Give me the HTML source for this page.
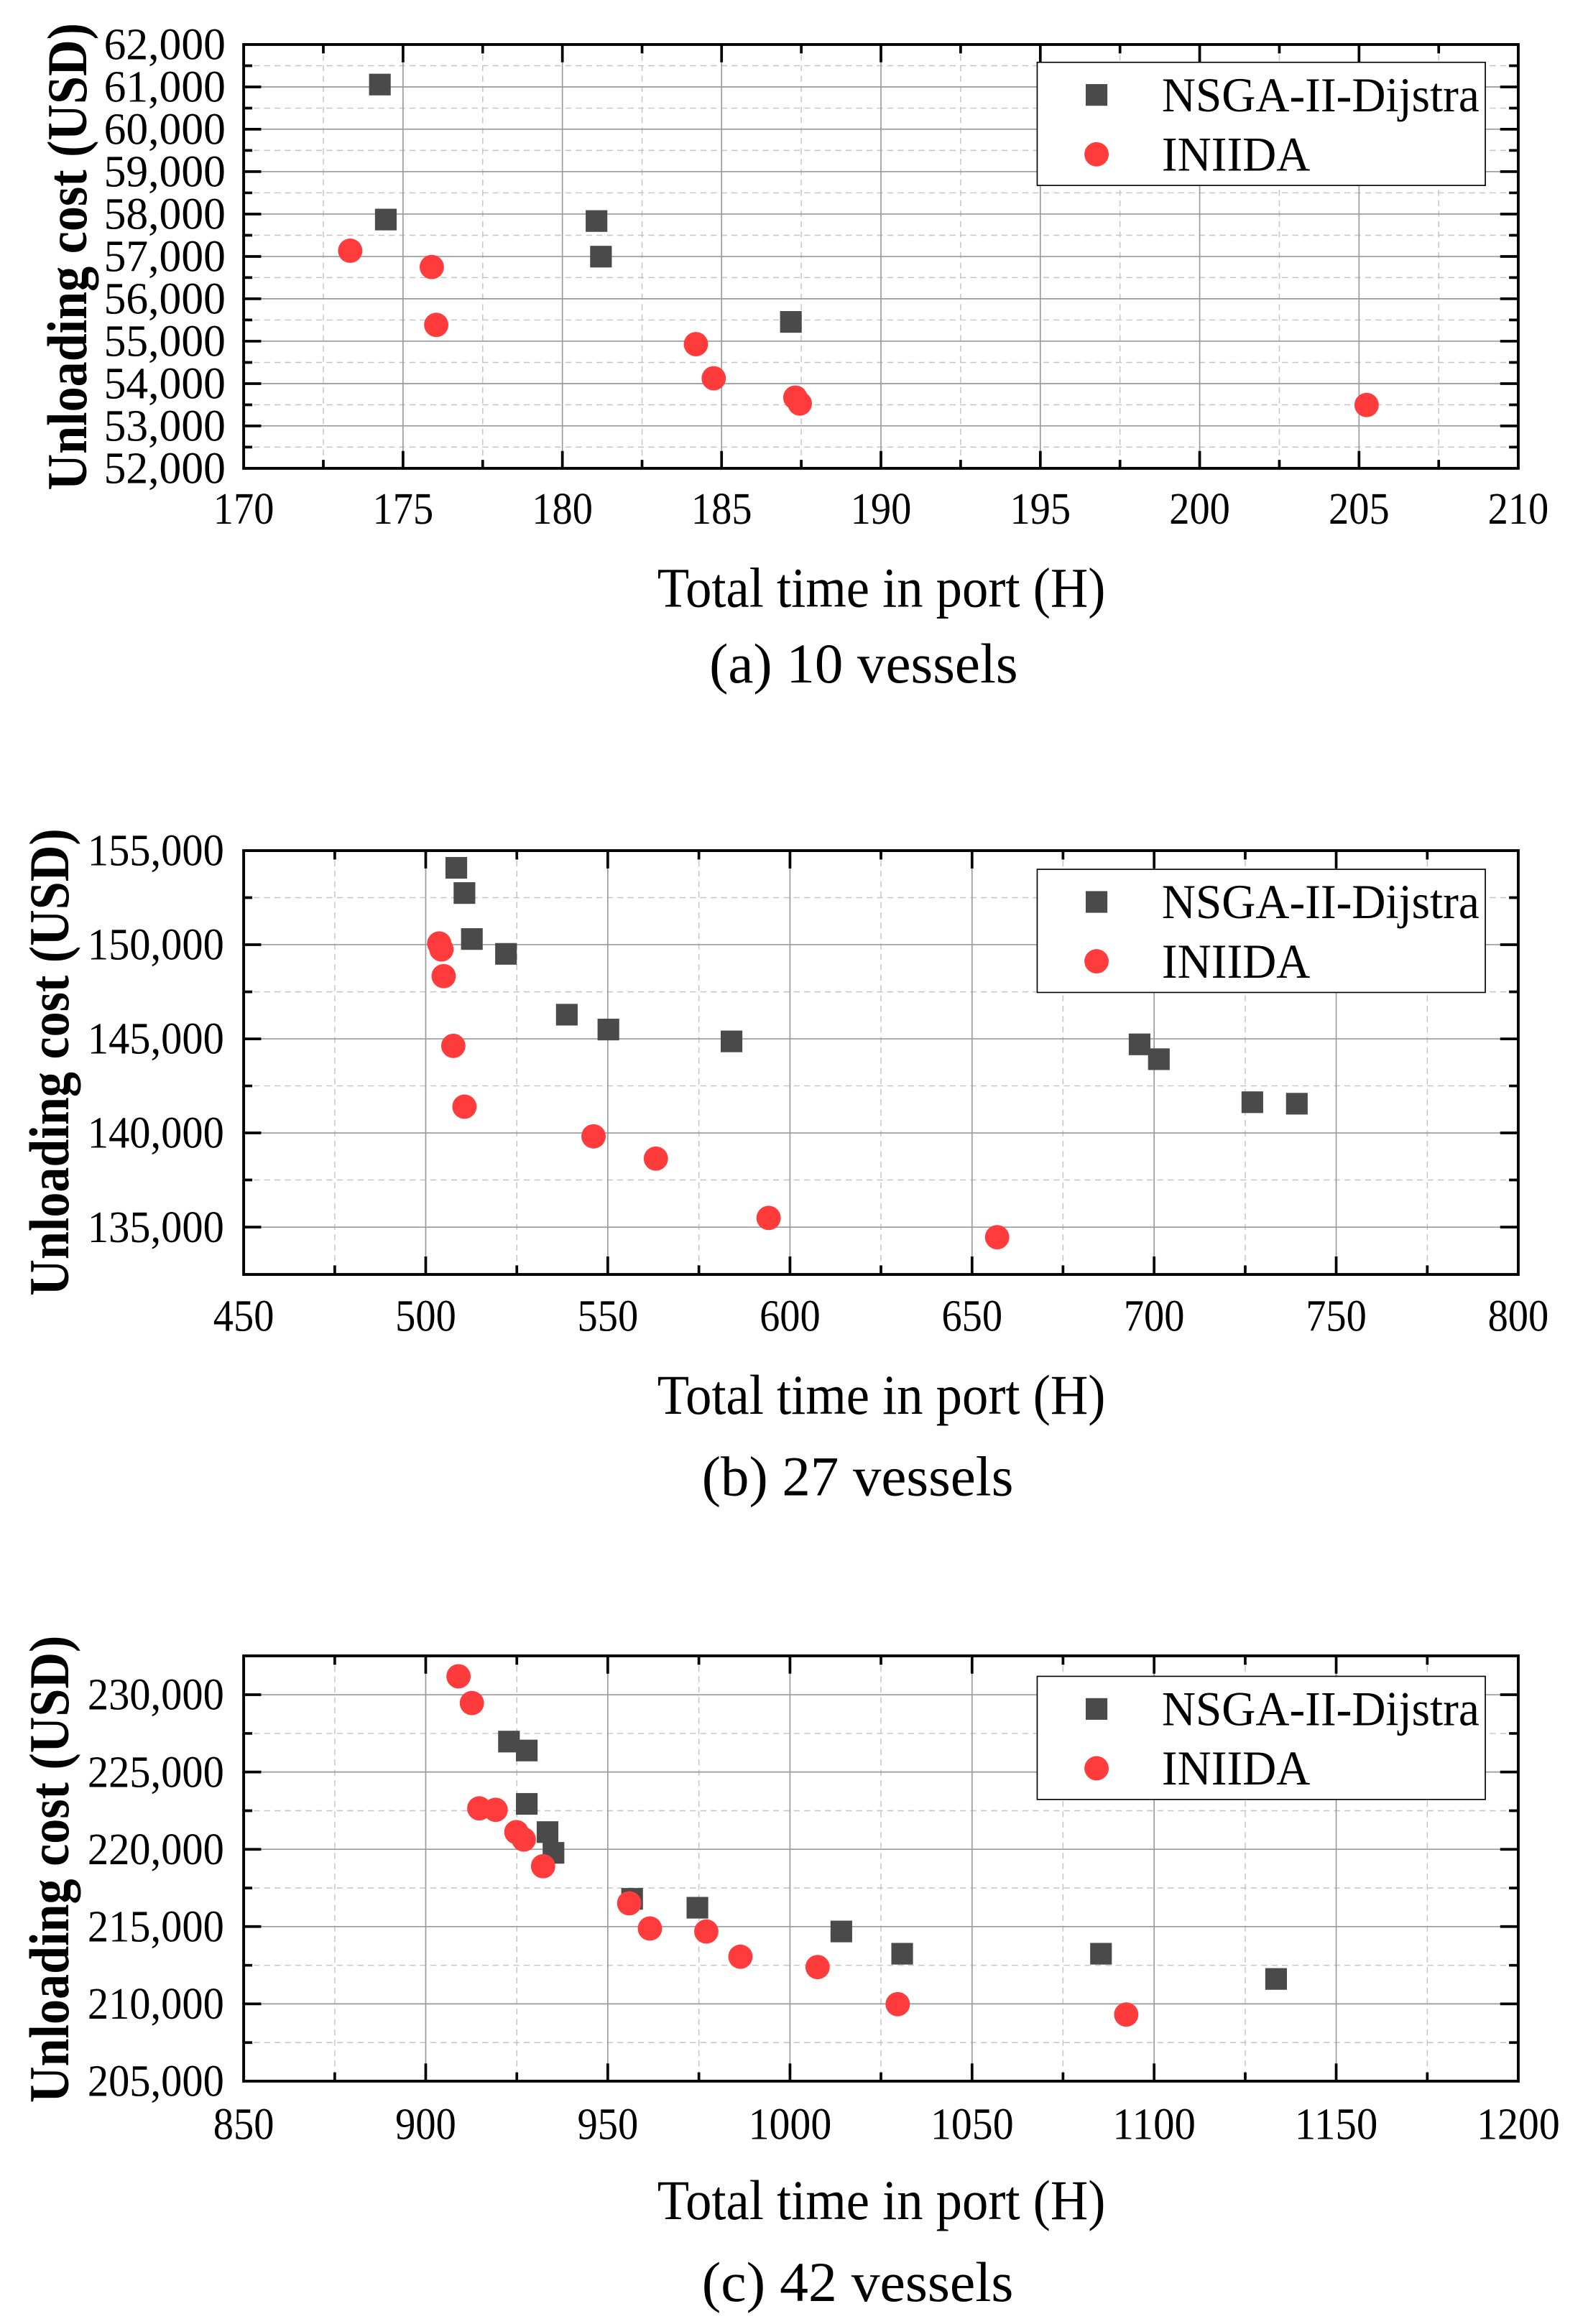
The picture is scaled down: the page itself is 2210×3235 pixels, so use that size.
<!DOCTYPE html>
<html><head><meta charset="utf-8"><style>html,body{margin:0;padding:0;background:#fff}svg{display:block}</style></head>
<body>
<svg width="2210" height="3235" viewBox="0 0 1070.2 1566.6" xmlns="http://www.w3.org/2000/svg" font-family="'Liberation Serif', serif">
<rect width="1070.2" height="1566.6" fill="#fff"/>
<defs>
<rect id="sq" x="-7.3" y="-7.3" width="14.6" height="14.6" fill="#4a4a4a"/>
<circle id="ci" r="8.2" fill="#ff3b3b"/>
</defs>

<!-- ===== Panel A ===== -->
<g>
<path d="M217.9 30V316M325.3 30V316M432.7 30V316M540 30V316M647.4 30V316M754.8 30V316M862.2 30V316M969.6 30V316M164 44.3H1023M164 72.9H1023M164 101.4H1023M164 130H1023M164 158.6H1023M164 187.1H1023M164 215.7H1023M164 244.3H1023M164 272.9H1023M164 301.4H1023" stroke="#c4c4c4" stroke-width="0.7" stroke-dasharray="4,3" fill="none"/>
<path d="M271.6 30V316M379 30V316M486.3 30V316M593.7 30V316M701.1 30V316M808.5 30V316M915.9 30V316M164 58.6H1023M164 87.1H1023M164 115.7H1023M164 144.3H1023M164 172.9H1023M164 201.4H1023M164 230H1023M164 258.6H1023M164 287.1H1023" stroke="#9a9a9a" stroke-width="0.8" fill="none"/>
<path d="M271.6 316v-12M379 316v-12M486.3 316v-12M593.7 316v-12M701.1 316v-12M808.5 316v-12M915.9 316v-12M271.6 30v12M379 30v12M486.3 30v12M593.7 30v12M701.1 30v12M808.5 30v12M915.9 30v12M217.9 316v-6M325.3 316v-6M432.7 316v-6M540 316v-6M647.4 316v-6M754.8 316v-6M862.2 316v-6M969.6 316v-6M217.9 30v6M325.3 30v6M432.7 30v6M540 30v6M647.4 30v6M754.8 30v6M862.2 30v6M969.6 30v6M164 58.6h12M164 87.1h12M164 115.7h12M164 144.3h12M164 172.9h12M164 201.4h12M164 230h12M164 258.6h12M164 287.1h12M1023 58.6h-12M1023 87.1h-12M1023 115.7h-12M1023 144.3h-12M1023 172.9h-12M1023 201.4h-12M1023 230h-12M1023 258.6h-12M1023 287.1h-12M164 44.3h6M164 72.9h6M164 101.4h6M164 130h6M164 158.6h6M164 187.1h6M164 215.7h6M164 244.3h6M164 272.9h6M164 301.4h6M1023 44.3h-6M1023 72.9h-6M1023 101.4h-6M1023 130h-6M1023 158.6h-6M1023 187.1h-6M1023 215.7h-6M1023 244.3h-6M1023 272.9h-6M1023 301.4h-6" stroke="#000" stroke-width="1.8" fill="none"/>
<rect x="164.2" y="30" width="859" height="285.7" fill="none" stroke="#000" stroke-width="1.9"/>
<g font-size="30" text-anchor="end" lengthAdjust="spacingAndGlyphs">
<text x="152" y="40" textLength="82" lengthAdjust="spacingAndGlyphs">62,000</text><text x="152" y="68.6" textLength="82" lengthAdjust="spacingAndGlyphs">61,000</text><text x="152" y="97.1" textLength="82" lengthAdjust="spacingAndGlyphs">60,000</text><text x="152" y="125.7" textLength="82" lengthAdjust="spacingAndGlyphs">59,000</text><text x="152" y="154.3" textLength="82" lengthAdjust="spacingAndGlyphs">58,000</text><text x="152" y="182.9" textLength="82" lengthAdjust="spacingAndGlyphs">57,000</text><text x="152" y="211.4" textLength="82" lengthAdjust="spacingAndGlyphs">56,000</text><text x="152" y="240" textLength="82" lengthAdjust="spacingAndGlyphs">55,000</text><text x="152" y="268.6" textLength="82" lengthAdjust="spacingAndGlyphs">54,000</text><text x="152" y="297.1" textLength="82" lengthAdjust="spacingAndGlyphs">53,000</text><text x="152" y="325.7" textLength="82" lengthAdjust="spacingAndGlyphs">52,000</text>
</g>
<g font-size="30" text-anchor="middle">
<text x="164.2" y="353" textLength="41" lengthAdjust="spacingAndGlyphs">170</text><text x="271.6" y="353" textLength="41" lengthAdjust="spacingAndGlyphs">175</text><text x="379" y="353" textLength="41" lengthAdjust="spacingAndGlyphs">180</text><text x="486.3" y="353" textLength="41" lengthAdjust="spacingAndGlyphs">185</text><text x="593.7" y="353" textLength="41" lengthAdjust="spacingAndGlyphs">190</text><text x="701.1" y="353" textLength="41" lengthAdjust="spacingAndGlyphs">195</text><text x="808.5" y="353" textLength="41" lengthAdjust="spacingAndGlyphs">200</text><text x="915.9" y="353" textLength="41" lengthAdjust="spacingAndGlyphs">205</text><text x="1023.2" y="353" textLength="41" lengthAdjust="spacingAndGlyphs">210</text>
</g>
<text x="594" y="409" font-size="38" text-anchor="middle" textLength="302" lengthAdjust="spacingAndGlyphs">Total time in port (H)</text>
<text x="582" y="460" font-size="38" text-anchor="middle" textLength="208" lengthAdjust="spacingAndGlyphs">(a) 10 vessels</text>
<text transform="translate(58,173) rotate(-90)" font-size="38" font-weight="bold" text-anchor="middle" textLength="315" lengthAdjust="spacingAndGlyphs">Unloading cost (USD)</text>
<use href="#sq" x="256" y="57"/><use href="#sq" x="260" y="148"/><use href="#sq" x="402" y="149"/><use href="#sq" x="405" y="173"/><use href="#sq" x="533" y="217"/>
<use href="#ci" x="236" y="169"/><use href="#ci" x="291" y="180"/><use href="#ci" x="294" y="219"/><use href="#ci" x="469" y="232"/><use href="#ci" x="481" y="255"/><use href="#ci" x="536" y="268"/><use href="#ci" x="539" y="272"/><use href="#ci" x="921" y="273"/>
<rect x="699" y="42" width="302" height="83" fill="#fff" stroke="#000" stroke-width="0.8"/>
<use href="#sq" x="739" y="64"/><use href="#ci" x="739" y="104"/>
<text x="783" y="75" font-size="33" textLength="214" lengthAdjust="spacingAndGlyphs">NSGA-II-Dijstra</text><text x="783" y="115" font-size="33" textLength="100" lengthAdjust="spacingAndGlyphs">INIIDA</text>
</g>

<!-- ===== Panel B ===== -->
<g>
<path d="M225.6 573V859M348.3 573V859M471 573V859M593.7 573V859M716.4 573V859M839.2 573V859M961.9 573V859M164 605.1H1023M164 668.6H1023M164 732H1023M164 795.4H1023" stroke="#c4c4c4" stroke-width="0.7" stroke-dasharray="4,3" fill="none"/>
<path d="M286.9 573V859M409.6 573V859M532.4 573V859M655.1 573V859M777.8 573V859M900.5 573V859M164 636.8H1023M164 700.3H1023M164 763.7H1023M164 827.2H1023" stroke="#9a9a9a" stroke-width="0.8" fill="none"/>
<path d="M286.9 859v-12M409.6 859v-12M532.4 859v-12M655.1 859v-12M777.8 859v-12M900.5 859v-12M286.9 573.4v12M409.6 573.4v12M532.4 573.4v12M655.1 573.4v12M777.8 573.4v12M900.5 573.4v12M225.6 859v-6M348.3 859v-6M471 859v-6M593.7 859v-6M716.4 859v-6M839.2 859v-6M961.9 859v-6M225.6 573.4v6M348.3 573.4v6M471 573.4v6M593.7 573.4v6M716.4 573.4v6M839.2 573.4v6M961.9 573.4v6M164 636.8h12M164 700.3h12M164 763.7h12M164 827.2h12M1023 636.8h-12M1023 700.3h-12M1023 763.7h-12M1023 827.2h-12M164 605.1h6M164 668.6h6M164 732h6M164 795.4h6M1023 605.1h-6M1023 668.6h-6M1023 732h-6M1023 795.4h-6" stroke="#000" stroke-width="1.8" fill="none"/>
<rect x="164.2" y="573.4" width="859" height="285.7" fill="none" stroke="#000" stroke-width="1.9"/>
<g font-size="30" text-anchor="end">
<text x="151" y="583.4" textLength="92" lengthAdjust="spacingAndGlyphs">155,000</text><text x="151" y="646.8" textLength="92" lengthAdjust="spacingAndGlyphs">150,000</text><text x="151" y="710.3" textLength="92" lengthAdjust="spacingAndGlyphs">145,000</text><text x="151" y="773.7" textLength="92" lengthAdjust="spacingAndGlyphs">140,000</text><text x="151" y="837.2" textLength="92" lengthAdjust="spacingAndGlyphs">135,000</text>
</g>
<g font-size="30" text-anchor="middle">
<text x="164.2" y="897" textLength="41" lengthAdjust="spacingAndGlyphs">450</text><text x="286.9" y="897" textLength="41" lengthAdjust="spacingAndGlyphs">500</text><text x="409.6" y="897" textLength="41" lengthAdjust="spacingAndGlyphs">550</text><text x="532.4" y="897" textLength="41" lengthAdjust="spacingAndGlyphs">600</text><text x="655.1" y="897" textLength="41" lengthAdjust="spacingAndGlyphs">650</text><text x="777.8" y="897" textLength="41" lengthAdjust="spacingAndGlyphs">700</text><text x="900.5" y="897" textLength="41" lengthAdjust="spacingAndGlyphs">750</text><text x="1023.2" y="897" textLength="41" lengthAdjust="spacingAndGlyphs">800</text>
</g>
<text x="594" y="953" font-size="38" text-anchor="middle" textLength="302" lengthAdjust="spacingAndGlyphs">Total time in port (H)</text>
<text x="578" y="1008" font-size="38" text-anchor="middle" textLength="210" lengthAdjust="spacingAndGlyphs">(b) 27 vessels</text>
<text transform="translate(46,716) rotate(-90)" font-size="38" font-weight="bold" text-anchor="middle" textLength="315" lengthAdjust="spacingAndGlyphs">Unloading cost (USD)</text>
<use href="#sq" x="307.5" y="585"/><use href="#sq" x="313" y="602"/><use href="#sq" x="318" y="633"/><use href="#sq" x="341" y="643"/><use href="#sq" x="382" y="684"/><use href="#sq" x="410" y="694"/><use href="#sq" x="493" y="702"/><use href="#sq" x="768" y="704"/><use href="#sq" x="781" y="714"/><use href="#sq" x="844" y="743"/><use href="#sq" x="874" y="744"/>
<use href="#ci" x="296" y="636"/><use href="#ci" x="297.5" y="640"/><use href="#ci" x="299" y="658"/><use href="#ci" x="305.5" y="705"/><use href="#ci" x="313" y="746"/><use href="#ci" x="400" y="766"/><use href="#ci" x="442" y="781"/><use href="#ci" x="518" y="821"/><use href="#ci" x="672" y="834"/>
<rect x="699" y="586" width="302" height="83" fill="#fff" stroke="#000" stroke-width="0.8"/>
<use href="#sq" x="739" y="608"/><use href="#ci" x="739" y="648"/>
<text x="783" y="619" font-size="33" textLength="214" lengthAdjust="spacingAndGlyphs">NSGA-II-Dijstra</text><text x="783" y="659" font-size="33" textLength="100" lengthAdjust="spacingAndGlyphs">INIIDA</text>
</g>

<!-- ===== Panel C ===== -->
<g>
<path d="M225.6 1116V1403M348.3 1116V1403M471 1116V1403M593.7 1116V1403M716.4 1116V1403M839.2 1116V1403M961.9 1116V1403M164 1168.5H1023M164 1220.6H1023M164 1272.7H1023M164 1324.8H1023M164 1376.9H1023" stroke="#c4c4c4" stroke-width="0.7" stroke-dasharray="4,3" fill="none"/>
<path d="M286.9 1116V1403M409.6 1116V1403M532.4 1116V1403M655.1 1116V1403M777.8 1116V1403M900.5 1116V1403M164 1142.4H1023M164 1194.5H1023M164 1246.6H1023M164 1298.7H1023M164 1350.8H1023" stroke="#9a9a9a" stroke-width="0.8" fill="none"/>
<path d="M286.9 1403v-12M409.6 1403v-12M532.4 1403v-12M655.1 1403v-12M777.8 1403v-12M900.5 1403v-12M286.9 1116.2v12M409.6 1116.2v12M532.4 1116.2v12M655.1 1116.2v12M777.8 1116.2v12M900.5 1116.2v12M225.6 1403v-6M348.3 1403v-6M471 1403v-6M593.7 1403v-6M716.4 1403v-6M839.2 1403v-6M961.9 1403v-6M225.6 1116.2v6M348.3 1116.2v6M471 1116.2v6M593.7 1116.2v6M716.4 1116.2v6M839.2 1116.2v6M961.9 1116.2v6M164 1142.4h12M164 1194.5h12M164 1246.6h12M164 1298.7h12M164 1350.8h12M1023 1142.4h-12M1023 1194.5h-12M1023 1246.6h-12M1023 1298.7h-12M1023 1350.8h-12M164 1168.5h6M164 1220.6h6M164 1272.7h6M164 1324.8h6M164 1376.9h6M1023 1168.5h-6M1023 1220.6h-6M1023 1272.7h-6M1023 1324.8h-6M1023 1376.9h-6" stroke="#000" stroke-width="1.8" fill="none"/>
<rect x="164.2" y="1116.2" width="859" height="286.7" fill="none" stroke="#000" stroke-width="1.9"/>
<g font-size="30" text-anchor="end">
<text x="151" y="1152.4" textLength="92" lengthAdjust="spacingAndGlyphs">230,000</text><text x="151" y="1204.5" textLength="92" lengthAdjust="spacingAndGlyphs">225,000</text><text x="151" y="1256.6" textLength="92" lengthAdjust="spacingAndGlyphs">220,000</text><text x="151" y="1308.7" textLength="92" lengthAdjust="spacingAndGlyphs">215,000</text><text x="151" y="1360.8" textLength="92" lengthAdjust="spacingAndGlyphs">210,000</text><text x="151" y="1412.9" textLength="92" lengthAdjust="spacingAndGlyphs">205,000</text>
</g>
<g font-size="30" text-anchor="middle">
<text x="164.2" y="1442" textLength="41" lengthAdjust="spacingAndGlyphs">850</text><text x="286.9" y="1442" textLength="41" lengthAdjust="spacingAndGlyphs">900</text><text x="409.6" y="1442" textLength="41" lengthAdjust="spacingAndGlyphs">950</text><text x="532.4" y="1442" textLength="56" lengthAdjust="spacingAndGlyphs">1000</text><text x="655.1" y="1442" textLength="56" lengthAdjust="spacingAndGlyphs">1050</text><text x="777.8" y="1442" textLength="56" lengthAdjust="spacingAndGlyphs">1100</text><text x="900.5" y="1442" textLength="56" lengthAdjust="spacingAndGlyphs">1150</text><text x="1023.2" y="1442" textLength="56" lengthAdjust="spacingAndGlyphs">1200</text>
</g>
<text x="594" y="1496" font-size="38" text-anchor="middle" textLength="302" lengthAdjust="spacingAndGlyphs">Total time in port (H)</text>
<text x="578" y="1551" font-size="38" text-anchor="middle" textLength="210" lengthAdjust="spacingAndGlyphs">(c) 42 vessels</text>
<text transform="translate(46,1260) rotate(-90)" font-size="38" font-weight="bold" text-anchor="middle" textLength="315" lengthAdjust="spacingAndGlyphs">Unloading cost (USD)</text>
<use href="#sq" x="343" y="1174"/><use href="#sq" x="355" y="1180"/><use href="#sq" x="355" y="1216"/><use href="#sq" x="369" y="1235"/><use href="#sq" x="373" y="1249"/><use href="#sq" x="426" y="1280"/><use href="#sq" x="470" y="1286"/><use href="#sq" x="567" y="1302"/><use href="#sq" x="608" y="1317"/><use href="#sq" x="742" y="1317"/><use href="#sq" x="860" y="1334"/>
<use href="#ci" x="309" y="1130"/><use href="#ci" x="318" y="1148"/><use href="#ci" x="323" y="1219"/><use href="#ci" x="334" y="1220"/><use href="#ci" x="348" y="1235"/><use href="#ci" x="353" y="1240"/><use href="#ci" x="366" y="1258"/><use href="#ci" x="424" y="1283"/><use href="#ci" x="438" y="1300"/><use href="#ci" x="476" y="1302"/><use href="#ci" x="499" y="1319"/><use href="#ci" x="551" y="1326"/><use href="#ci" x="605" y="1351"/><use href="#ci" x="759" y="1358"/>
<rect x="699" y="1130" width="302" height="83" fill="#fff" stroke="#000" stroke-width="0.8"/>
<use href="#sq" x="739" y="1152"/><use href="#ci" x="739" y="1192"/>
<text x="783" y="1163" font-size="33" textLength="214" lengthAdjust="spacingAndGlyphs">NSGA-II-Dijstra</text><text x="783" y="1203" font-size="33" textLength="100" lengthAdjust="spacingAndGlyphs">INIIDA</text>
</g>
</svg>
</body></html>
